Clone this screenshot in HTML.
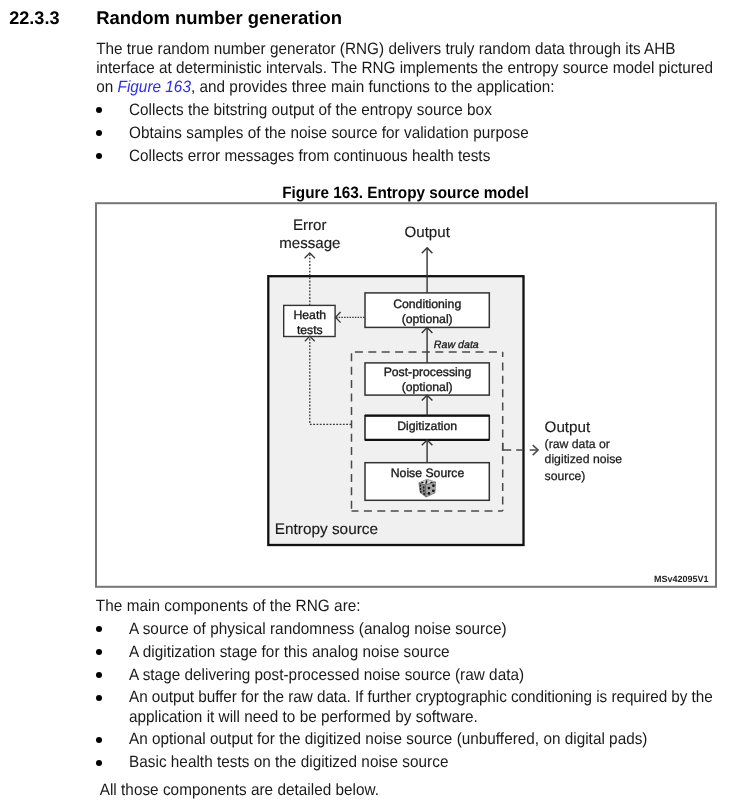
<!DOCTYPE html>
<html><head><meta charset="utf-8">
<style>
html,body{margin:0;padding:0;background:#fff;}
body{width:743px;height:805px;position:relative;overflow:hidden;text-rendering:geometricPrecision;filter:blur(0.4px);font-family:"Liberation Sans",sans-serif;color:#1a1a1a;}
.t{position:absolute;white-space:nowrap;line-height:1;font-size:15.3px;transform:scaleY(1.07);transform-origin:0 13px;}
.h{font-weight:bold;font-size:18.36px;color:#000;transform:none;}
.b{position:absolute;width:6px;height:6px;border-radius:50%;background:#000;}
.lnk{color:#2b2bf5;font-style:italic;}
svg{position:absolute;left:0;top:0;}
</style></head><body>
<div class="t h" style="left:9.2px;top:9.2px;font-size:18.1px">22.3.3</div>
<div class="t h" style="left:96.2px;top:9px;font-size:18.45px">Random number generation</div>

<div class="t" style="left:96.2px;top:42px;letter-spacing:0.0150px">The true random number generator (RNG) delivers truly random data through its AHB</div>
<div class="t" style="left:96.2px;top:61px;letter-spacing:-0.0124px">interface at deterministic intervals. The RNG implements the entropy source model pictured</div>
<div class="t" style="left:96.2px;top:80px;letter-spacing:0.0254px">on <span class="lnk">Figure 163</span>, and provides three main functions to the application:</div>

<div class="b" style="left:96px;top:107px"></div>
<div class="t" style="left:129px;top:103px;letter-spacing:0.0259px">Collects the bitstring output of the entropy source box</div>
<div class="b" style="left:96px;top:130px"></div>
<div class="t" style="left:129px;top:126px;letter-spacing:0.0298px">Obtains samples of the noise source for validation purpose</div>
<div class="b" style="left:96px;top:153px"></div>
<div class="t" style="left:129px;top:149px;letter-spacing:0.0157px">Collects error messages from continuous health tests</div>

<div class="t" style="left:282.2px;top:186px;font-weight:bold;color:#000">Figure 163. Entropy source model</div>

<svg width="743" height="805" viewBox="0 0 743 805" font-family="Liberation Sans, sans-serif">
  <!-- figure frame -->
  <rect x="96" y="203.2" width="620" height="383.6" fill="none" stroke="#767676" stroke-width="2"/>
  <!-- entropy source box -->
  <rect x="268.3" y="276.2" width="255.2" height="268.8" fill="#f0f0f0" stroke="#111" stroke-width="2.3"/>
  <!-- dashed box -->
  <g fill="none" stroke="#4a4a4a" stroke-width="1.5" stroke-dasharray="8 5.4">
    <path d="M351.5 352 H502.7" stroke-dashoffset="10"/>
    <path d="M351.5 352 V511" stroke-dashoffset="12.1"/>
    <path d="M351.5 511 H502.7" stroke-dashoffset="1"/>
    <path d="M502.7 352 V511" stroke-dashoffset="3"/>
  </g>
  <!-- boxes -->
  <rect x="283.7" y="305.4" width="51.4" height="31.1" fill="#fff" stroke="#333" stroke-width="1.4"/>
  <rect x="365" y="292.9" width="124.3" height="34.5" fill="#fff" stroke="#333" stroke-width="1.5"/>
  <rect x="365" y="362.9" width="124.3" height="32.2" fill="#fff" stroke="#333" stroke-width="1.5"/>
  <rect x="365" y="415.6" width="124.3" height="24.2" fill="#fff" stroke="#222" stroke-width="1.5"/>
  <line x1="365" y1="415.6" x2="489.3" y2="415.6" stroke="#111" stroke-width="2.2"/>
  <line x1="365" y1="439.8" x2="489.3" y2="439.8" stroke="#111" stroke-width="2.2"/>
  <rect x="365" y="462.7" width="124.3" height="37.6" fill="#fff" stroke="#333" stroke-width="1.5"/>

  <!-- solid arrows -->
  <g stroke="#333" stroke-width="1.4" fill="none">
    <line x1="427.1" y1="292.9" x2="427.1" y2="248"/>
    <polyline points="421.8,253.3 427.1,247.8 432.4,253.3"/>
    <line x1="427.1" y1="362.9" x2="427.1" y2="328"/>
    <polyline points="421.8,333 427.1,327.6 432.4,333"/>
    <line x1="427.1" y1="415.6" x2="427.1" y2="395.5"/>
    <polyline points="421.8,400.5 427.1,395.2 432.4,400.5"/>
    <line x1="427.1" y1="462.7" x2="427.1" y2="440.5"/>
    <polyline points="421.8,445.2 427.1,439.9 432.4,445.2"/>
  </g>
  <!-- dotted arrows -->
  <g stroke="#3a3a3a" stroke-width="1.3" fill="none">
    <line x1="309.8" y1="305.5" x2="309.8" y2="253.5" stroke-dasharray="1.8 1.5"/>
    <polyline points="304.6,258.3 309.8,253 315,258.3"/>
    <line x1="364.5" y1="317.3" x2="336" y2="317.3" stroke-dasharray="1.5 1.2"/>
    <polyline points="340.6,312 335.5,317.3 340.6,322.6"/>
    <polyline points="351.3,424.3 309.8,424.3 309.8,336.5" stroke-dasharray="1.8 1.5"/>
    <polyline points="304.9,341.3 309.8,336.1 314.7,341.3"/>
  </g>
  <!-- output dashed connector -->
  <g stroke="#4a4a4a" stroke-width="1.5" fill="none">
    <path d="M502.7 443 V450 H511.2 M516.2 450 H523.3 M529.7 450 H537.6"/>
    <polyline points="532.7,445.1 538.1,450 532.7,455.1"/>
  </g>

  <!-- dice -->
  <g transform="translate(427,488)">
    <path d="M-0.1,-8.8 L8.6,-5.9 L-1.6,-3 L-8.1,-5.1 Z" fill="#d4d4d4" stroke="#555" stroke-width="0.5"/>
    <path d="M-8.1,-5.1 L-1.6,-3 L-0.8,9 L-6.9,4.6 Z" fill="#8a8a8a" stroke="#444" stroke-width="0.5"/>
    <path d="M-1.6,-3 L8.6,-5.9 L8,5 L-0.8,9 Z" fill="#a8a8a8" stroke="#444" stroke-width="0.5"/>
    <g fill="#151515">
      <ellipse cx="-4.6" cy="-5.6" rx="1.2" ry="0.7"/>
      <ellipse cx="-0.6" cy="-5.9" rx="0.8" ry="2.2" transform="rotate(15 -0.6 -5.9)"/>
      <ellipse cx="4.4" cy="-5.6" rx="1.2" ry="0.7"/>
      <ellipse cx="-6.6" cy="-2.4" rx="0.7" ry="1.1"/>
      <ellipse cx="-3.3" cy="-0.6" rx="0.75" ry="1.2"/>
      <ellipse cx="-6.4" cy="0.9" rx="0.7" ry="1.1"/>
      <ellipse cx="-3.2" cy="2.8" rx="0.75" ry="1.2"/>
      <ellipse cx="-6.1" cy="3.8" rx="0.7" ry="1.1"/>
      <ellipse cx="-2.9" cy="6" rx="0.75" ry="1.2"/>
      <circle cx="6.4" cy="-2.3" r="1.35"/>
      <circle cx="1.9" cy="0.1" r="1.4"/>
      <circle cx="6.3" cy="2.8" r="1.35"/>
      <circle cx="1.9" cy="5.4" r="1.4"/>
    </g>
  </g>

  <!-- texts -->
  <g fill="#1a1a1a" stroke="#1a1a1a" stroke-width="0.15" font-size="15.1" text-anchor="middle">
    <text x="309.7" y="229.8">Error</text>
    <text x="309.8" y="248">message</text>
    <text x="427.2" y="237.3">Output</text>
  </g>
  <text x="274.8" y="534.2" font-size="15.35" fill="#1a1a1a" stroke="#1a1a1a" stroke-width="0.15">Entropy source</text>
  <text x="544.6" y="432.2" font-size="15.2" fill="#1a1a1a" stroke="#1a1a1a" stroke-width="0.15">Output</text>
  <g fill="#1a1a1a" stroke="#1a1a1a" stroke-width="0.25" font-size="12.24">
    <text x="544.6" y="447.7">(raw data or</text>
    <text x="544.6" y="462.8">digitized noise</text>
    <text x="544.6" y="479.7">source)</text>
  </g>
  <g fill="#1a1a1a" stroke="#1a1a1a" stroke-width="0.35" font-size="12.24" text-anchor="middle">
    <text x="309.8" y="318.7">Heath</text>
    <text x="309.8" y="333.9">tests</text>
    <text x="427.2" y="308.3">Conditioning</text>
    <text x="427.2" y="322.6">(optional)</text>
    <text x="427.5" y="376.2">Post-processing</text>
    <text x="427.2" y="390.6">(optional)</text>
    <text x="427.2" y="429.8">Digitization</text>
    <text x="427.5" y="476.5">Noise Source</text>
  </g>
  <text x="433.8" y="347.8" font-size="10.65" font-style="italic" fill="#1a1a1a" stroke="#1a1a1a" stroke-width="0.3">Raw data</text>
  <text x="654" y="582.2" font-size="9" font-weight="bold" fill="#222">MSv42095V1</text>
</svg>

<div class="t" style="left:95.8px;top:598.5px;letter-spacing:0.0618px">The main components of the RNG are:</div>
<div class="b" style="left:96px;top:626px"></div>
<div class="t" style="left:129px;top:622px;letter-spacing:0.0327px">A source of physical randomness (analog noise source)</div>
<div class="b" style="left:96px;top:649px"></div>
<div class="t" style="left:129px;top:645px;letter-spacing:0.0354px">A digitization stage for this analog noise source</div>
<div class="b" style="left:96px;top:672px"></div>
<div class="t" style="left:129px;top:668px;letter-spacing:0.0250px">A stage delivering post-processed noise source (raw data)</div>
<div class="b" style="left:96px;top:695px"></div>
<div class="t" style="left:129px;top:690px;letter-spacing:-0.0489px">An output buffer for the raw data. If further cryptographic conditioning is required by the</div>
<div class="t" style="left:129px;top:709.5px;letter-spacing:0.0212px">application it will need to be performed by software.</div>
<div class="b" style="left:96px;top:736.5px"></div>
<div class="t" style="left:129px;top:731.5px;letter-spacing:0.0218px">An optional output for the digitized noise source (unbuffered, on digital pads)</div>
<div class="b" style="left:96px;top:759.5px"></div>
<div class="t" style="left:129px;top:754.5px;letter-spacing:0.0298px">Basic health tests on the digitized noise source</div>
<div class="t" style="left:99.7px;top:782.5px;letter-spacing:0.0333px">All those components are detailed below.</div>
</body></html>
